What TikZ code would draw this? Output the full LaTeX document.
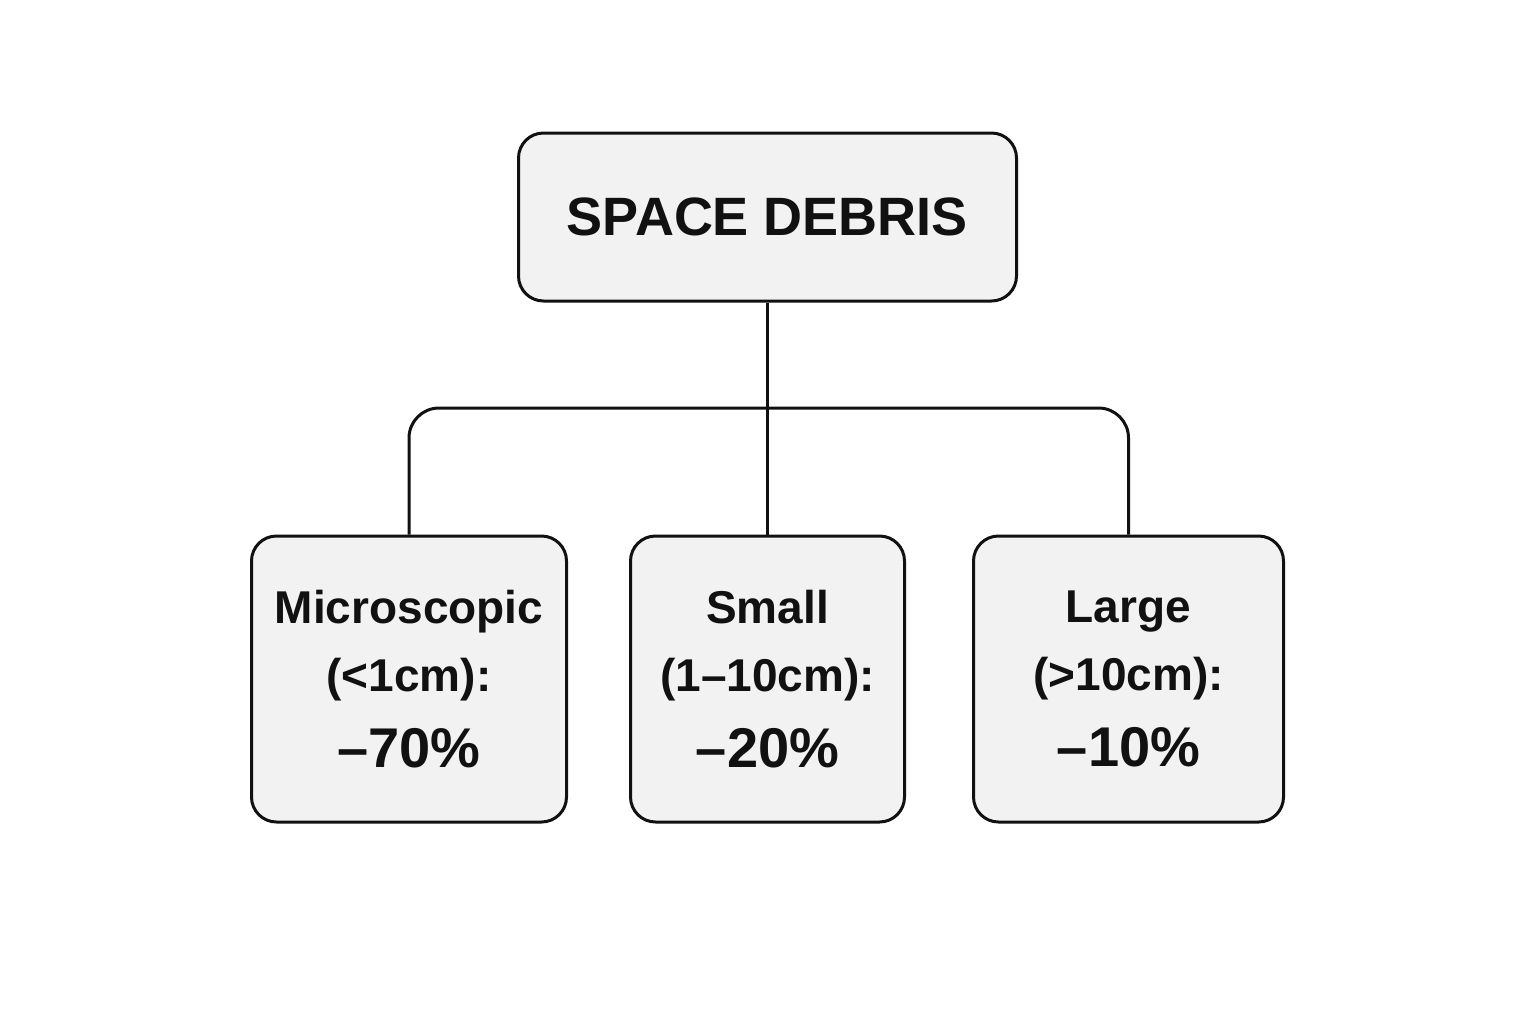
\documentclass[tikz,border=0pt]{standalone}
\usepackage{fontspec}
\setmainfont{Liberation Sans}
\usetikzlibrary{positioning}
\definecolor{boxgray}{HTML}{F2F2F2}
\definecolor{inkblack}{HTML}{111111}

\begin{document}
\begin{tikzpicture}[x=0.5pt,y=-0.5pt,
        catbox/.style={draw=inkblack,line width=1.5pt,fill=boxgray,rounded corners=12.5pt,
                       align=center,text=inkblack,font=\bfseries\fontsize{23}{34}\selectfont,
                       minimum height=143pt,inner sep=0pt},
        link/.style={draw=inkblack,line width=1.5pt}]
            \fill[white] (0,0) rectangle (1536,1024);
            \useasboundingbox (0,0) rectangle (1536,1024);
            \node[catbox,minimum width=249pt,minimum height=84pt,
                  font=\bfseries\fontsize{27}{32}\selectfont] (debris) at (767.5,217) {SPACE DEBRIS};
            \node[catbox,minimum width=137pt,below=116pt of debris] (small)
                  {Small\\(1–10cm):\\[4pt]{\fontsize{28}{34}\selectfont –20\%}};
            \node[catbox,minimum width=157.5pt,left=30.5pt of small] (micro)
                  {Microscopic\\(<1cm):\\[4pt]{\fontsize{28}{34}\selectfont –70\%}};
            \node[catbox,minimum width=155pt,right=33pt of small] (large)
                  {Large\\(>10cm):\\[4pt]{\fontsize{28}{34}\selectfont –10\%}};
            \coordinate (bus) at (767.5,408);
            \draw[link] (debris.south) -- (small.north);
            \draw[link,rounded corners=15pt] (micro.north) |- (bus) -| (large.north);
\end{tikzpicture}
\end{document}
